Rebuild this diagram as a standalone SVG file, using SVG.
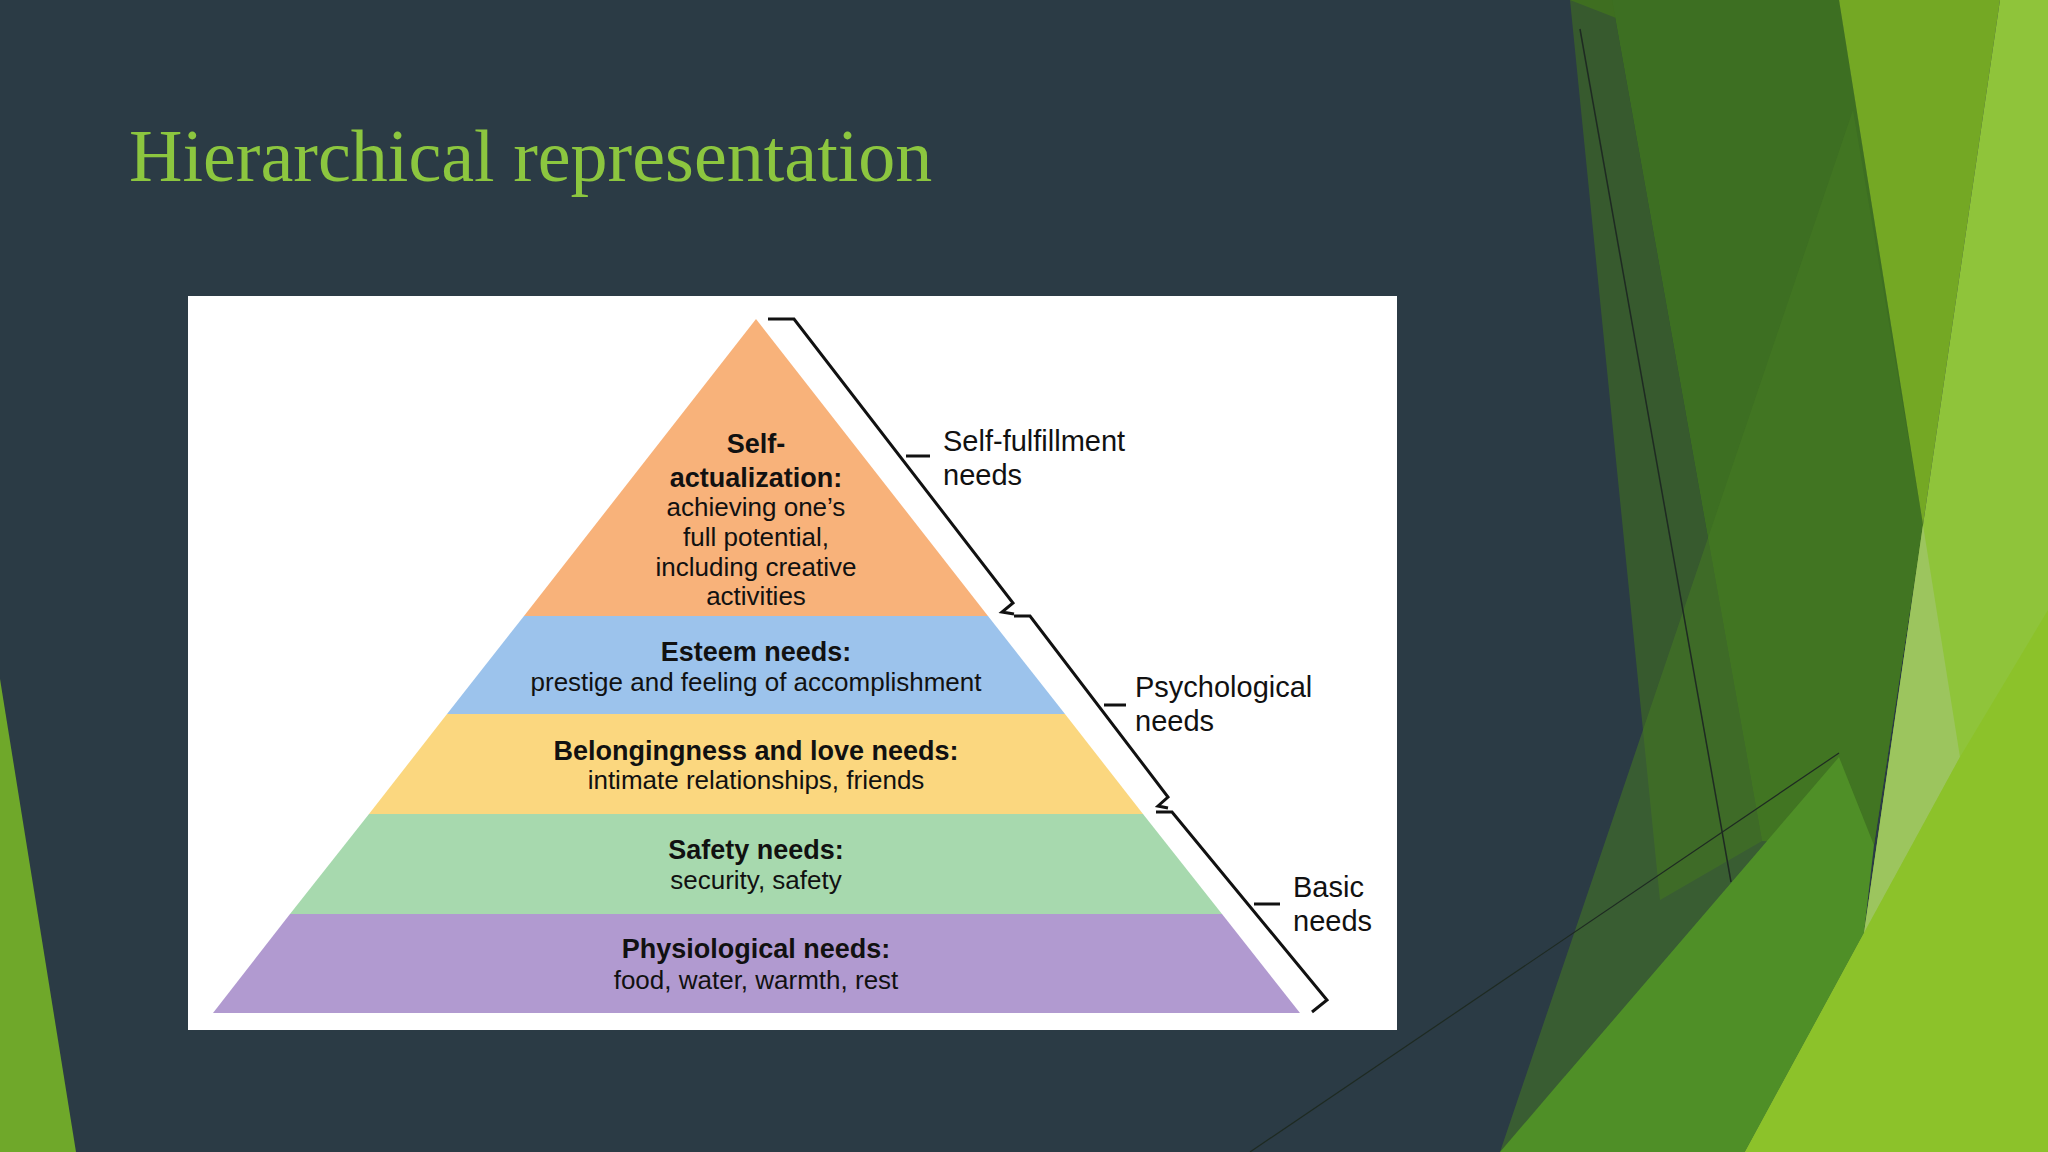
<svg xmlns="http://www.w3.org/2000/svg" width="2048" height="1152" viewBox="0 0 2048 1152">
<style>
.b{font-family:"Liberation Sans",Arial,sans-serif;font-weight:bold;font-size:27px;fill:#111;text-anchor:middle}
.n{font-family:"Liberation Sans",Arial,sans-serif;font-size:26px;fill:#111;text-anchor:middle}
.l{font-family:"Liberation Sans",Arial,sans-serif;font-size:29px;fill:#111}
.br{fill:none;stroke:#111;stroke-width:3;stroke-linejoin:miter}
</style>
<rect width="2048" height="1152" fill="#2b3b45"/>
<g id="decor">
<polygon points="0,679 76,1152 0,1152" fill="#6fa82a"/>
<polygon points="1570,0 1839,0 1923,525 1874,845 1853,110" fill="#3f7020" opacity="0.95"/>
<polygon points="1570,0 1853,110 1565,1076 1545,1152" fill="none"/>
<polygon points="1612,0 1839,0 1923,525 1874,845 1762,841" fill="#3d6f22"/>
<polygon points="1570,0 1612,0 1762,841 1660,900" fill="#3f7020" opacity="0.6"/>
<polygon points="1853,110 1923,525 1874,845 1839,757 1565,1076 1545,1152 1500,1152" fill="#467a22" opacity="0.55"/>
<polygon points="1839,0 2000,0 1923,525" fill="#74a824"/>
<polygon points="1565,1076 1839,757 1874,845 1864,933 1745,1152 1500,1152" fill="#4f8f27"/>
<polygon points="2000,0 2048,0 2048,1152 1745,1152 1864,933 1923,525" fill="#8fc43a"/>
<polygon points="1923,525 1960,757 1864,933" fill="#9cc55e"/>
<polygon points="1960,757 2048,610 2048,1152 1745,1152 1864,933" fill="#8cc22a"/>
<line x1="1580" y1="29" x2="1731" y2="882" stroke="#1e2a22" stroke-width="1.5"/>
<line x1="1250" y1="1152" x2="1839" y2="753" stroke="#1e2a22" stroke-width="1.2"/>
</g>
<text x="129" y="181" font-family="Liberation Serif,Times New Roman,serif" font-size="74" fill="#8cc63f">Hierarchical representation</text>
<rect x="188" y="296" width="1209" height="734" fill="#fff"/>
<g id="self"><polygon points="756,319 988,616 524,616" fill="#f8b27a"/>
<text class="b" x="756" y="453">Self-</text><text class="b" x="756" y="487">actualization:</text>
<text class="n" x="756" y="516">achieving one’s</text><text class="n" x="756" y="546">full potential,</text>
<text class="n" x="756" y="576">including creative</text><text class="n" x="756" y="605">activities</text></g>
<g id="esteem"><polygon points="524,616 988,616 1065,714 447,714" fill="#9cc3ec"/>
<text class="b" x="756" y="661">Esteem needs:</text><text class="n" x="756" y="691">prestige and feeling of accomplishment</text></g>
<g id="belong"><polygon points="447,714 1065,714 1143,814 369,814" fill="#fbd77f"/>
<text class="b" x="756" y="760">Belongingness and love needs:</text><text class="n" x="756" y="789">intimate relationships, friends</text></g>
<g id="safety"><polygon points="369,814 1143,814 1222,914 290,914" fill="#a7d9ae"/>
<text class="b" x="756" y="859">Safety needs:</text><text class="n" x="756" y="889">security, safety</text></g>
<g id="phys"><polygon points="290,914 1222,914 1300,1013 213,1013" fill="#b19ad0"/>
<text class="b" x="756" y="958">Physiological needs:</text><text class="n" x="756" y="989">food, water, warmth, rest</text></g>
<g id="connectors">
<polyline class="br" points="768,319 794,319 1013,603 1002,612 1014,614"/>
<line class="br" x1="906" y1="456" x2="930" y2="456"/>
<polyline class="br" points="1014,616 1030,616 1168,797 1158,806 1168,808"/>
<line class="br" x1="1104" y1="705" x2="1126" y2="705"/>
<polyline class="br" points="1156,812 1172,812 1327,1000 1312,1012"/>
<line class="br" x1="1254" y1="904" x2="1280" y2="904"/>
</g>
<g id="labels">
<text class="l" x="943" y="451">Self-fulfillment</text><text class="l" x="943" y="485">needs</text>
<text class="l" x="1135" y="697">Psychological</text><text class="l" x="1135" y="731">needs</text>
<text class="l" x="1293" y="897">Basic</text><text class="l" x="1293" y="931">needs</text>
</g>
</svg>
